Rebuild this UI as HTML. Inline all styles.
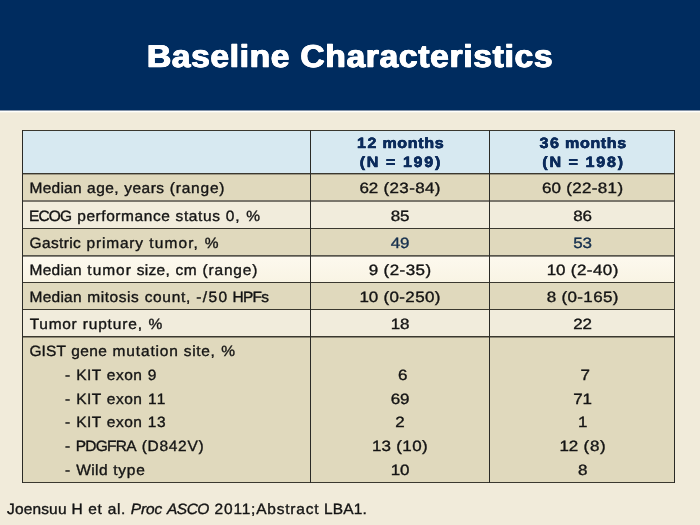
<!DOCTYPE html><html><head><meta charset="utf-8"><title>Baseline Characteristics</title><style>
html,body{margin:0;padding:0}
body{width:700px;height:525px;overflow:hidden;background:#f1ebda;position:relative;font-family:"Liberation Sans",sans-serif}
#hdr{position:absolute;left:0;top:0;width:700px;height:110px;background:#002c5f}
#hl{position:absolute;left:0;top:110px;width:700px;height:1px;background:#8493a8}
#hl2{position:absolute;left:0;top:111px;width:700px;height:1px;background:#fffffc}
#hl3{position:absolute;left:0;top:112px;width:700px;height:1px;background:#f6f2e5}
.row{position:absolute;left:22px;width:652px}
.ln{position:absolute}
.t{position:absolute;margin:0;transform-origin:0 0;text-rendering:geometricPrecision;font-weight:normal;will-change:transform;height:1em;line-height:1}
.t span{position:absolute;top:0;white-space:pre}
.r{font-size:14.9px;-webkit-text-stroke:0.36px currentColor}
.b{font-size:14.9px;font-weight:bold;-webkit-text-stroke:0.4px currentColor;text-shadow:0.2px 0 0 currentColor,-0.2px 0 0 currentColor}
.tt{font-size:31.6px;font-weight:bold;-webkit-text-stroke:0.7px #fff;text-shadow:0.6px 0 0 #fff,-0.6px 0 0 #fff}
i{font-style:italic}
</style></head><body>
<div id="hdr"></div><div id="hl"></div><div id="hl2"></div><div id="hl3"></div>
<div class="row" style="top:130px;height:43px;background:#d7e9f1"></div>
<div class="row" style="top:173px;height:27px;background:#e0d9bd"></div>
<div class="row" style="top:200px;height:28px;background:#f1ecdc"></div>
<div class="row" style="top:228px;height:27px;background:#e0d9bd"></div>
<div class="row" style="top:255px;height:27px;background:linear-gradient(#fdf9ef,#f9f4e4)"></div>
<div class="row" style="top:282px;height:27px;background:#e0d9bd"></div>
<div class="row" style="top:309px;height:27px;background:#f1ecdc"></div>
<div class="row" style="top:336px;height:146px;background:#e0d9bd"></div>
<div class="ln" style="left:22px;top:130px;width:653px;height:1px;background:rgba(58,56,47,1)"></div>
<div class="ln" style="left:22px;top:173px;width:653px;height:1px;background:rgba(58,56,47,1)"></div>
<div class="ln" style="left:22px;top:174px;width:653px;height:1px;background:rgba(58,56,47,0.4)"></div>
<div class="ln" style="left:22px;top:200px;width:653px;height:1px;background:rgba(58,56,47,0.65)"></div>
<div class="ln" style="left:22px;top:201px;width:653px;height:1px;background:rgba(58,56,47,0.65)"></div>
<div class="ln" style="left:22px;top:228px;width:653px;height:1px;background:rgba(58,56,47,1)"></div>
<div class="ln" style="left:22px;top:255px;width:653px;height:1px;background:rgba(58,56,47,0.85)"></div>
<div class="ln" style="left:22px;top:256px;width:653px;height:1px;background:rgba(58,56,47,0.6)"></div>
<div class="ln" style="left:22px;top:282px;width:653px;height:1px;background:rgba(58,56,47,1)"></div>
<div class="ln" style="left:22px;top:309px;width:653px;height:1px;background:rgba(58,56,47,1)"></div>
<div class="ln" style="left:22px;top:336px;width:653px;height:1px;background:rgba(58,56,47,1)"></div>
<div class="ln" style="left:22px;top:337px;width:653px;height:1px;background:rgba(58,56,47,0.5)"></div>
<div class="ln" style="left:22px;top:482px;width:653px;height:1px;background:rgba(58,56,47,1)"></div>
<div class="ln" style="left:22px;top:130px;width:1px;height:353px;background:rgb(42,42,38)"></div>
<div class="ln" style="left:310px;top:130px;width:1px;height:353px;background:rgb(42,42,38)"></div>
<div class="ln" style="left:489px;top:130px;width:1px;height:353px;background:rgb(42,42,38)"></div>
<div class="ln" style="left:674px;top:130px;width:1px;height:353px;background:rgb(42,42,38)"></div>
<h1 class="t tt" style="left:146px;top:41px;color:#ffffff;transform:scaleX(1.06)"><span style="left:0.94px;letter-spacing:0.63px;">Baseline </span><span style="left:145.69px;letter-spacing:0.68px;">Characteristics</span></h1>
<div class="t b" style="left:356px;top:137px;color:#0c2c5c;transform:scaleX(1.08)"><span style="left:0.9px;letter-spacing:1.37px;">12 </span><span style="left:24.46px;letter-spacing:0.58px;">months</span></div>
<div class="t b" style="left:358px;top:156px;color:#0c2c5c;transform:scaleX(1.08)"><span style="left:1.63px;letter-spacing:1.58px;">(N </span><span style="left:25.9px;letter-spacing:3.07px;">= </span><span style="left:41.59px;letter-spacing:1.63px;">199)</span></div>
<div class="t b" style="left:538px;top:137px;color:#0c2c5c;transform:scaleX(1.08)"><span style="left:1.45px;letter-spacing:1.37px;">36 </span><span style="left:25.01px;letter-spacing:0.58px;">months</span></div>
<div class="t b" style="left:541px;top:156px;color:#0c2c5c;transform:scaleX(1.08)"><span style="left:1.26px;letter-spacing:1.58px;">(N </span><span style="left:25.53px;letter-spacing:3.07px;">= </span><span style="left:41.22px;letter-spacing:1.63px;">198)</span></div>
<div class="t r" style="left:29px;top:182px;color:#141414;transform:scaleX(1.04)"><span style="left:0.46px;letter-spacing:0.25px;">Median </span><span style="left:55.87px;letter-spacing:0.45px;">age, </span><span style="left:91.63px;letter-spacing:0.44px;">years </span><span style="left:135.37px;letter-spacing:0.77px;">(range)</span></div>
<div class="t r" style="left:29px;top:210px;color:#141414;transform:scaleX(1.04)"><span style="left:-0.05px;letter-spacing:-0.77px;">ECOG </span><span style="left:46.36px;letter-spacing:0.55px;">performance </span><span style="left:140.98px;letter-spacing:0.58px;">status </span><span style="left:189.29px;letter-spacing:0.84px;">0, </span><span style="left:208.89px;letter-spacing:1.92px;">%</span></div>
<div class="t r" style="left:29px;top:237px;color:#141414;transform:scaleX(1.04)"><span style="left:0.51px;letter-spacing:0.34px;">Gastric </span><span style="left:55.25px;letter-spacing:0.8px;">primary </span><span style="left:115.59px;letter-spacing:1.09px;">tumor, </span><span style="left:168.89px;letter-spacing:1.92px;">%</span></div>
<div class="t r" style="left:29px;top:264px;color:#141414;transform:scaleX(1.04)"><span style="left:0.46px;letter-spacing:0.25px;">Median </span><span style="left:56.11px;letter-spacing:0.94px;">tumor </span><span style="left:103.56px;letter-spacing:0.31px;">size, </span><span style="left:140.82px;letter-spacing:0.61px;">cm </span><span style="left:166.94px;letter-spacing:0.77px;">(range)</span></div>
<div class="t r" style="left:29px;top:291px;color:#141414;transform:scaleX(1.04)"><span style="left:0.46px;letter-spacing:0.25px;">Median </span><span style="left:55.92px;letter-spacing:0.56px;">mitosis </span><span style="left:111.2px;letter-spacing:0.65px;">count, </span><span style="left:160.92px;letter-spacing:1.27px;">-/50 </span><span style="left:195.66px;letter-spacing:-0.67px;">HPFs</span></div>
<div class="t r" style="left:29px;top:318px;color:#141414;transform:scaleX(1.04)"><span style="left:0.68px;letter-spacing:0.69px;">Tumor </span><span style="left:51.63px;letter-spacing:0.81px;">rupture, </span><span style="left:114.92px;letter-spacing:1.92px;">%</span></div>
<div class="t r" style="left:29px;top:345px;color:#141414;transform:scaleX(1.04)"><span style="left:0.39px;letter-spacing:0.11px;">GIST </span><span style="left:40.67px;letter-spacing:0.35px;">gene </span><span style="left:80.4px;letter-spacing:0.81px;">mutation </span><span style="left:148.85px;letter-spacing:0.6px;">site, </span><span style="left:184.78px;letter-spacing:1.92px;">%</span></div>
<div class="t r" style="left:64px;top:369px;color:#141414;transform:scaleX(1.04)"><span style="left:0.91px;letter-spacing:1.43px;">- </span><span style="left:11.76px;letter-spacing:0.41px;">KIT </span><span style="left:41.17px;letter-spacing:0.49px;">exon </span><span style="left:80.46px;letter-spacing:0.67px;">9</span></div>
<div class="t r" style="left:64px;top:393px;color:#141414;transform:scaleX(1.04)"><span style="left:0.91px;letter-spacing:1.43px;">- </span><span style="left:11.76px;letter-spacing:0.41px;">KIT </span><span style="left:41.17px;letter-spacing:0.49px;">exon </span><span style="left:80.75px;letter-spacing:1.24px;">11</span></div>
<div class="t r" style="left:64px;top:416px;color:#141414;transform:scaleX(1.04)"><span style="left:0.91px;letter-spacing:1.43px;">- </span><span style="left:11.76px;letter-spacing:0.41px;">KIT </span><span style="left:41.17px;letter-spacing:0.49px;">exon </span><span style="left:80.47px;letter-spacing:0.68px;">13</span></div>
<div class="t r" style="left:64px;top:440px;color:#141414;transform:scaleX(1.04)"><span style="left:0.91px;letter-spacing:1.43px;">- </span><span style="left:11.21px;letter-spacing:-0.7px;">PDGFRA </span><span style="left:74.72px;letter-spacing:0.68px;">(D842V)</span></div>
<div class="t r" style="left:64px;top:464px;color:#141414;transform:scaleX(1.04)"><span style="left:0.91px;letter-spacing:1.43px;">- </span><span style="left:11.75px;letter-spacing:0.38px;">Wild </span><span style="left:47.36px;letter-spacing:0.74px;">type</span></div>
<div class="t r" style="left:359px;top:182px;color:#141414;transform:scaleX(1.14)"><span style="left:0.43px;letter-spacing:-0.11px;">62 </span><span style="left:21.53px;letter-spacing:0.32px;">(23-84)</span></div>
<div class="t r" style="left:390px;top:210px;color:#141414;transform:scaleX(1.14)"><span style="left:0.62px;letter-spacing:-0.11px;">85</span></div>
<div class="t r" style="left:390px;top:237px;color:#16304e;transform:scaleX(1.14)"><span style="left:0.62px;letter-spacing:-0.11px;">49</span></div>
<div class="t r" style="left:368px;top:264px;color:#141414;transform:scaleX(1.14)"><span style="left:0.71px;letter-spacing:-0.11px;">9 </span><span style="left:13.67px;letter-spacing:0.39px;">(2-35)</span></div>
<div class="t r" style="left:359px;top:291px;color:#141414;transform:scaleX(1.14)"><span style="left:0.43px;letter-spacing:-0.11px;">10 </span><span style="left:21.53px;letter-spacing:0.32px;">(0-250)</span></div>
<div class="t r" style="left:390px;top:318px;color:#141414;transform:scaleX(1.14)"><span style="left:0.62px;letter-spacing:-0.11px;">18</span></div>
<div class="t r" style="left:392px;top:369px;color:#141414;transform:scaleX(1.14)"><span style="left:5.23px;letter-spacing:-0.11px;">6</span></div>
<div class="t r" style="left:390px;top:393px;color:#141414;transform:scaleX(1.14)"><span style="left:0.62px;letter-spacing:-0.11px;">69</span></div>
<div class="t r" style="left:395px;top:416px;color:#141414;transform:scaleX(1.14)"><span style="left:0.33px;letter-spacing:-0.11px;">2</span></div>
<div class="t r" style="left:372px;top:440px;color:#141414;transform:scaleX(1.14)"><span style="left:0.12px;letter-spacing:-0.11px;">13 </span><span style="left:21.27px;letter-spacing:0.39px;">(10)</span></div>
<div class="t r" style="left:390px;top:464px;color:#141414;transform:scaleX(1.14)"><span style="left:0.62px;letter-spacing:-0.11px;">10</span></div>
<div class="t r" style="left:542px;top:182px;color:#141414;transform:scaleX(1.14)"><span style="left:0.08px;letter-spacing:-0.11px;">60 </span><span style="left:21.18px;letter-spacing:0.32px;">(22-81)</span></div>
<div class="t r" style="left:573px;top:210px;color:#141414;transform:scaleX(1.14)"><span style="left:0.27px;letter-spacing:-0.11px;">86</span></div>
<div class="t r" style="left:573px;top:237px;color:#16304e;transform:scaleX(1.14)"><span style="left:0.27px;letter-spacing:-0.11px;">53</span></div>
<div class="t r" style="left:546px;top:264px;color:#141414;transform:scaleX(1.14)"><span style="left:0.66px;letter-spacing:-0.11px;">10 </span><span style="left:21.8px;letter-spacing:0.39px;">(2-40)</span></div>
<div class="t r" style="left:546px;top:291px;color:#141414;transform:scaleX(1.14)"><span style="left:0.66px;letter-spacing:-0.11px;">8 </span><span style="left:13.58px;letter-spacing:0.32px;">(0-165)</span></div>
<div class="t r" style="left:573px;top:318px;color:#141414;transform:scaleX(1.14)"><span style="left:0.27px;letter-spacing:-0.11px;">22</span></div>
<div class="t r" style="left:575px;top:369px;color:#141414;transform:scaleX(1.14)"><span style="left:4.87px;letter-spacing:-0.11px;">7</span></div>
<div class="t r" style="left:573px;top:393px;color:#141414;transform:scaleX(1.14)"><span style="left:0.27px;letter-spacing:-0.11px;">71</span></div>
<div class="t r" style="left:578px;top:416px;color:#141414;transform:scaleX(1.14)"><span style="left:-0.02px;letter-spacing:-0.11px;">1</span></div>
<div class="t r" style="left:559px;top:440px;color:#141414;transform:scaleX(1.14)"><span style="left:0.36px;letter-spacing:-0.11px;">12 </span><span style="left:21.58px;letter-spacing:0.55px;">(8)</span></div>
<div class="t r" style="left:578px;top:464px;color:#141414;transform:scaleX(1.14)"><span style="left:-0.02px;letter-spacing:-0.11px;">8</span></div>
<div class="t r" style="left:7px;top:503px;color:#141414;transform:scaleX(1.04)"><span style="left:0.07px;letter-spacing:0.14px;">Joensuu </span><span style="left:62.14px;letter-spacing:-0.21px;">H </span><span style="left:78.1px;letter-spacing:0.74px;">et </span><span style="left:96.87px;letter-spacing:0.56px;">al. </span><span style="left:118.9px;letter-spacing:-0.08px;font-style:italic;">Proc </span><span style="left:153.94px;letter-spacing:-0.53px;font-style:italic;">ASCO </span><span style="left:199.61px;letter-spacing:0.76px;">2011;Abstract </span><span style="left:304.87px;letter-spacing:0.11px;">LBA1.</span></div>
</body></html>
